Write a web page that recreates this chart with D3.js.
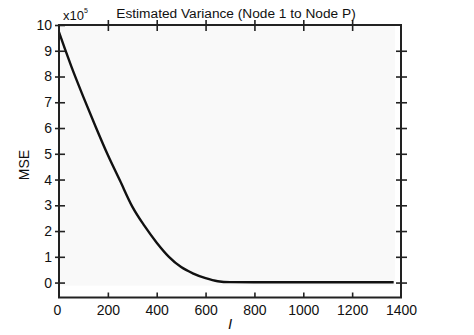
<!DOCTYPE html>
<html><head><meta charset="utf-8">
<script src="https://cdn.jsdelivr.net/npm/d3@7"></script>
<style>
body{margin:0;background:#fff;}
text{font-family:"Liberation Sans",Arial,sans-serif;fill:#111;}
</style></head>
<body><svg id="c" width="474" height="335"></svg>
<script>
const iterI = [0,25,50,100,150,200,250,300,350,400,450,500,550,600,650,700,800,900,1000,1100,1200,1300,1370];
const mse   = [9.72,9.05,8.4,7.2,6.05,4.95,3.95,2.95,2.2,1.55,1.0,0.6,0.35,0.17,0.05,0.015,0.01,0.01,0.01,0.01,0.01,0.01,0.01];
const xTicks = [0,200,400,600,800,1000,1200,1400];
const yTicks = [0,1,2,3,4,5,6,7,8,9,10];
const title = "Estimated Variance (Node 1 to Node P)";

const svg = d3.select("#c");
const L=59, R=401, T=25, B=297.5;
const x = d3.scaleLinear().domain([0,1400]).range([L,R]);
const y = d3.scaleLinear().domain([-0.58,10]).range([B,T]);
const fmt = d3.format("d");

// plot background
svg.append("rect").attr("x",L).attr("y",T).attr("width",x(1375)-L).attr("height",y(-0.12)-T).attr("fill","#f9f9f9");

// curve
const line = d3.line().x((d,i)=>x(iterI[i])).y(d=>y(d)).curve(d3.curveMonotoneX);
svg.append("path").datum(mse).attr("d",line).attr("fill","none").attr("stroke","#111").attr("stroke-width",2.4);

// frame
svg.append("rect").attr("x",L).attr("y",T).attr("width",R-L).attr("height",B-T).attr("fill","none").attr("stroke","#222").attr("stroke-width",2);

// left axis
const ax = svg.append("g").attr("transform",`translate(${L},0)`).call(d3.axisLeft(y).tickValues(yTicks).tickFormat(fmt).tickSize(4).tickPadding(3));
ax.select(".domain").remove();
ax.selectAll(".tick line").attr("x2",6).attr("x1",-4).attr("stroke","#222").attr("stroke-width",1.6);
ax.selectAll(".tick text").attr("font-size","14px").attr("fill","#111").attr("font-family","Liberation Sans, Arial");

// right axis ticks
const ar = svg.append("g").attr("transform",`translate(${R},0)`).call(d3.axisRight(y).tickValues(yTicks.slice(0,10)).tickSize(6).tickFormat(""));
ar.select(".domain").remove();
ar.selectAll(".tick line").attr("x1",-5).attr("x2",6).attr("stroke","#222").attr("stroke-width",1.6);

// bottom axis
const abx = svg.append("g").attr("transform",`translate(0,${B})`).call(d3.axisBottom(x).tickValues(xTicks).tickFormat(fmt).tickSize(0).tickPadding(8));
abx.select(".domain").remove();
abx.selectAll(".tick line").attr("y1",-5).attr("y2",0).attr("stroke","#222").attr("stroke-width",1.6);
abx.selectAll(".tick").filter(d=>d===0||d===1400).select("line").remove();
abx.selectAll(".tick text").attr("font-size","14px").attr("fill","#111").attr("font-family","Liberation Sans, Arial");
abx.selectAll(".tick").filter(d=>d===0).select("text").attr("dx",-2);

// top axis ticks
const at = svg.append("g").attr("transform",`translate(0,${T})`).call(d3.axisTop(x).tickValues(xTicks.slice(1,7)).tickSize(5).tickFormat(""));
at.select(".domain").remove();
at.selectAll(".tick line").attr("y1",-5).attr("y2",6).attr("stroke","#222").attr("stroke-width",1.6);

// title
svg.append("text").attr("x",236).attr("y",18).attr("text-anchor","middle").attr("font-size","13.7px").text(title);

// exponent
const ex = svg.append("text").attr("x",63).attr("y",20).attr("font-size","13px");
ex.append("tspan").text("x10");
ex.append("tspan").attr("dy",-7).attr("font-size","7px").text("5");

// y label
svg.append("text").attr("transform","translate(29,165) rotate(-90)").attr("text-anchor","middle").attr("font-size","14px").text("MSE");

// x label
svg.append("text").attr("x",230).attr("y",329).attr("text-anchor","middle").attr("font-size","15px").attr("font-style","italic").text("I");
</script></body></html>
